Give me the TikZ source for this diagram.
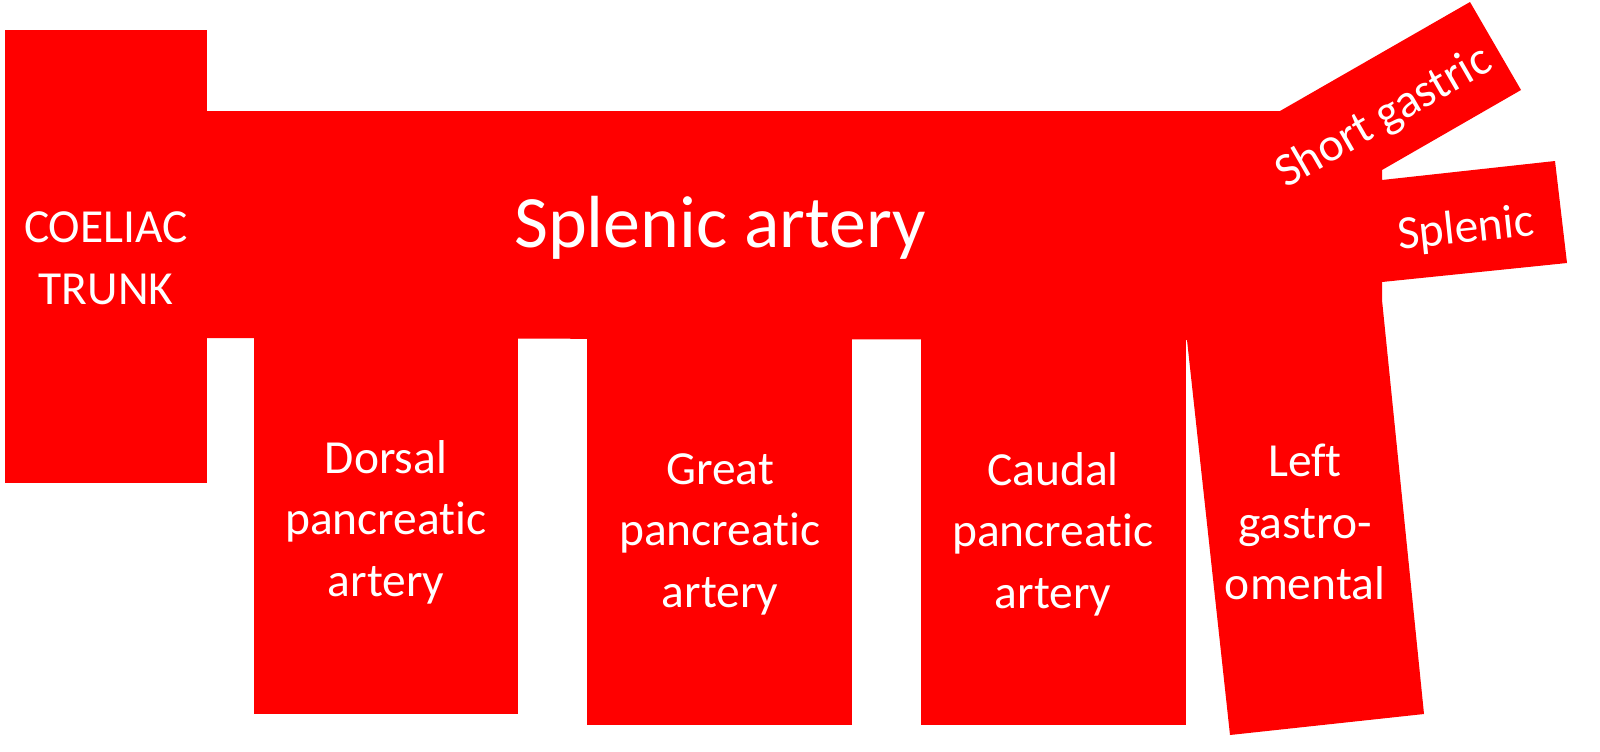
\documentclass[tikz,border=0pt]{standalone}
\usepackage{fontspec}
\setmainfont[Ligatures={NoCommon,NoRequired,NoContextual,NoDiscretionary}]{Carlito}
\definecolor{art}{RGB}{255,0,0}
\begin{document}
\begin{tikzpicture}[x=0.01cm,y=-0.01cm,
  lbl/.style={text=white,align=center,overlay,font=\fontsize{13.5}{17.5}\selectfont}]
\path[use as bounding box] (0,0) rectangle (1600,751);
\fill[art] (5,30) rectangle (207,483);
\fill[art] (207,111) -- (1280,111) -- (1470,2) -- (1521,90) -- (1382,170) -- (1382,180) -- (1555,161) -- (1567,263) -- (1382,282) -- (1382,300) -- (1424,714) -- (1230,735) -- (1187,340) -- (207,338) -- cycle;
\fill[art] (254,336) rectangle (518,714);
\fill[art] (587,336) rectangle (852,725);
\fill[art] (921,336) rectangle (1186,725);
\node[lbl] (ct) at (106,258) {COELIAC\\TRUNK};
\node[lbl,font=\fontsize{21}{25}\selectfont] (sa) at (720,228) {Splenic artery};
\node[lbl] (dp) at (386,522) {Dorsal\\pancrea{}tic\\artery};
\node[lbl] (gp) at (720,534) {Great\\pancrea{}tic\\artery};
\node[lbl] (cp) at (1053,534) {Caudal\\pancrea{}tic\\artery};
\node[lbl] (lg) at (1305,522) {Left\\gastro-\\omental};
\node[lbl,rotate=30] (sg) at (1384,118) {Short gastric};
\node[lbl,rotate=6] (sp) at (1466,230) {Splenic};
\end{tikzpicture}
\end{document}
